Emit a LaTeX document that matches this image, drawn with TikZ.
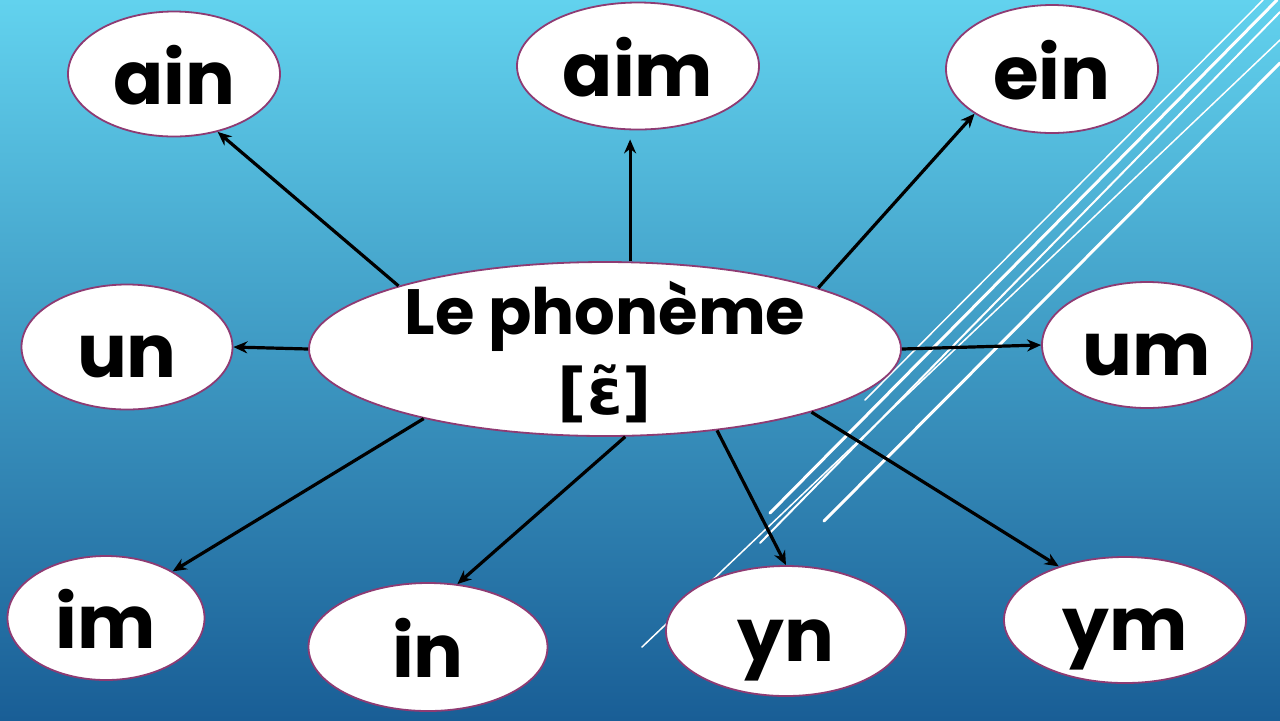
\documentclass[tikz,border=0pt]{standalone}
\usepackage{fontspec}
\newfontfamily\wordfont{Poppins}
\newfontfamily\ipafont{DejaVu Sans}
\usetikzlibrary{arrows.meta,shapes.geometric}

\definecolor{skytop}{HTML}{62D2EE}
\definecolor{skybottom}{HTML}{195E96}
\definecolor{rim}{HTML}{8E3B73}

\tikzset{
	word/.style={ellipse, draw=rim, line width=0.9pt, fill=white, inner sep=0pt,
		text height=30pt, text depth=0pt,
		font=\wordfont\bfseries\fontsize{37}{40}\selectfont},
	link/.style={line width=1.6pt, -{Stealth[length=7pt,width=6pt]}},
	streak/.style={draw=white, line cap=round},
}

\begin{document}
\begin{tikzpicture}[x=0.5pt,y=-0.5pt]
	\clip (0,0) rectangle (1280,720);
	\shade[top color=skytop, bottom color=skybottom] (0,0) rectangle (1280,720);

	\draw[streak, line width=0.75pt] (865,400) -- (1263,0);
	\draw[streak, line width=1.5pt] (770,513) -- (1277,0);
	\draw[streak, line width=1pt] (760,543) -- (1280,12);
	\draw[streak, line width=0.75pt] (642,647) -- (1280,40);
	\draw[streak, line width=1.5pt] (824,521) -- (1280,63);

	\node[word, minimum width=296pt, minimum height=87pt] (phon) at (605,349) {};
	\node[align=center, inner sep=0pt,
		font=\wordfont\bfseries\fontsize{32}{40}\selectfont] (phontext) at (605,352)
		{Le phonème\\{\ipafont\bfseries [ɛ̃]}};

	\node[word, minimum width=106pt, minimum height=62.5pt] (ain) at (174,74) {ain};
	\node[word, minimum width=121pt, minimum height=63.5pt] (aim) at (638,66) {aim};
	\node[word, minimum width=106pt, minimum height=64pt] (ein) at (1052,69) {ein};
	\node[word, minimum width=105.5pt, minimum height=62.5pt] (un) at (127,347) {un};
	\node[word, minimum width=105pt, minimum height=63pt] (um) at (1147,345) {um};
	\node[word, minimum width=98.5pt, minimum height=62pt] (im) at (106,618) {im};
	\node[word, minimum width=119.5pt, minimum height=64pt] (in) at (428,647) {in};
	\node[word, minimum width=120pt, minimum height=65pt] (yn) at (786,631) {yn};
	\node[word, minimum width=121pt, minimum height=63pt] (ym) at (1125,620) {ym};

	\draw[link] (phon.163) -- (ain.-53);
	\draw[link, shorten >=4.5pt] (phon.74) -- (phon.74 |- aim.south);
	\draw[link] (phon.16.4) -- (ein.210);
	\draw[link] (phon.180) -- (un.0);
	\draw[link] (phon.0) -- (um.180);
	\draw[link] (phon.201) -- (im.35);
	\draw[link] (phon.-77.6) -- (in.65);
	\draw[link] (phon.-36) -- (yn.90);
	\draw[link] (phon.-17) -- (ym.141);
\end{tikzpicture}
\end{document}
